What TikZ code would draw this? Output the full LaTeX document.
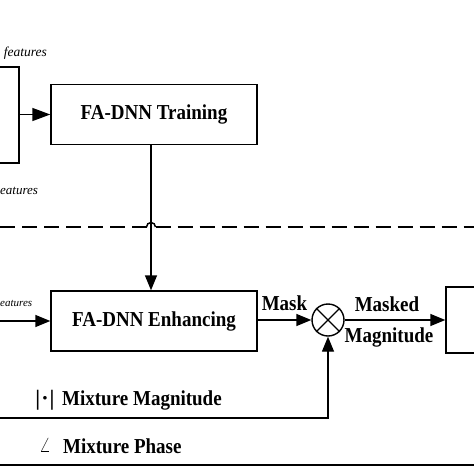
\documentclass[tikz,border=0pt]{standalone}
\usepackage{fontspec}
\setmainfont{Liberation Serif}
\usetikzlibrary{arrows.meta,calc}
\newcommand\tallbox[1]{\scalebox{1}[1.12]{#1}}
\begin{document}
\begin{tikzpicture}[x=1pt,y=-1pt,
  box/.style={draw,line width=1.4pt,rectangle,inner sep=0pt,
    font=\fontsize{19}{22}\selectfont\bfseries},
  lbl/.style={inner sep=0pt,font=\fontsize{19}{22}\selectfont\bfseries},
  itl/.style={inner sep=0pt,font=\itshape},
  conn/.style={line width=1.4pt,-{Triangle[length=15pt,width=12pt]}},
  plain/.style={line width=1.4pt},
  dash line/.style={line width=1.5pt,dash pattern=on 15pt off 7pt}]
\useasboundingbox (0,0) rectangle (474,474);
\clip (0,0) rectangle (474,474);
\fill[white] (0,0) rectangle (474,474);
% nodes
\node[box,minimum width=40pt,minimum height=96pt] (inbox) at (-1,115) {};
\node[box,minimum width=206pt,minimum height=60pt] (train) at (154,114.5) {\tallbox{FA-DNN Training}};
\node[box,minimum width=206pt,minimum height=60pt] (enh) at (154,321) {\tallbox{FA-DNN Enhancing}};
\node[draw,circle,line width=1.4pt,minimum size=32pt,inner sep=0pt] (mult) at (328,320) {};
\node[box,minimum width=56pt,minimum height=66pt] (outbox) at (474,320) {};
% cross inside multiplier
\draw[plain] (mult.north east) -- (mult.south west);
\draw[plain] (mult.north west) -- (mult.south east);
% italic labels
\node[itl,anchor=east,font=\fontsize{13.5}{16}\selectfont\itshape] (f1) at (47,53) {features};
\node[itl,anchor=west,font=\fontsize{13}{16}\selectfont\itshape] (f2) at (0,191) {eatures};
\node[itl,anchor=west,font=\fontsize{11}{13}\selectfont\itshape] (f3) at (0,303) {eatures};
% coordinates
\coordinate (hop) at (151,227);
\coordinate (dl) at (0,227);
\coordinate (dr) at (474,227);
\coordinate (inl) at (0,321);
\coordinate (mml) at (0,418);
\coordinate (phl) at (0,465);
\coordinate (phr) at (474,465);
% connectors
\draw[line width=1.4pt,-{Triangle[length=18pt,width=13pt]}] (inbox.east |- train.west) -- (train.west);
\draw[conn] (train.south -| hop) -- (enh.north -| hop);
\draw[dash line] (dl) -- ($(hop)+(-4.5,0)$);
\draw[line width=1.5pt] ($(hop)+(-4.5,0)$) arc (180:360:4.5);
\draw[dash line,dash phase=0pt] ($(hop)+(4.5,0)$) -- (dr);
\draw[conn] (inl) -- (enh.west);
\draw[conn] (enh.east |- mult.west) -- (mult.west) node[lbl,midway,above=9pt] (mask) {\tallbox{Mask}};
\draw[conn] (mult.east) -- (outbox.west |- mult.east);
\draw[conn] (mml) -- (mult.south |- mml) -- (mult.south);
\draw[plain] (phl) -- (phr);
% labels
\node[lbl] (masked) at (387,304) {\tallbox{Masked}};
\node[lbl] (magn) at (389,337) {\tallbox{Magnitude}};
\node[lbl,font=\fontsize{22}{24}\selectfont\bfseries] (absop) at (45,400) {|\kern1pt·\kern1pt|};
\node[lbl,anchor=west] (mixmag) at (62,400) {\tallbox{Mixture Magnitude}};
\node[lbl,font=\fontsize{22}{24}\selectfont] (angop) at (45,445) {$\angle$};
\node[lbl,anchor=west] (mixph) at (63,446) {\tallbox{Mixture Phase}};
\end{tikzpicture}
\end{document}
